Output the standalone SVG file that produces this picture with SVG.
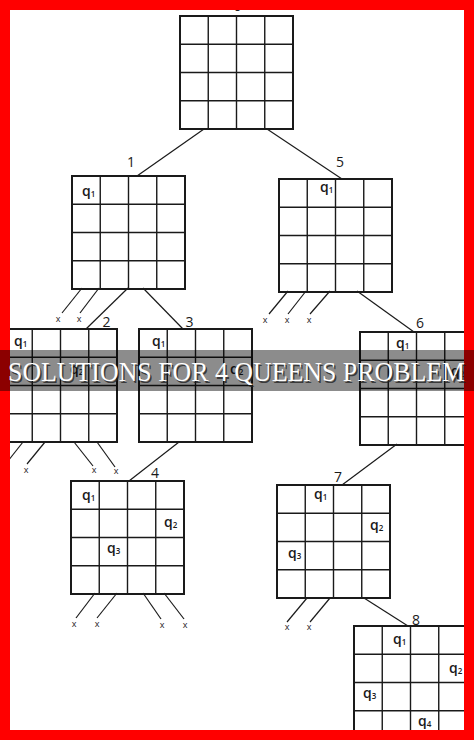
<svg xmlns="http://www.w3.org/2000/svg" xmlns:xlink="http://www.w3.org/1999/xlink" width="474" height="740" viewBox="0 0 474 740">
<style>
.outer{fill:none;stroke:#1a1a1a;stroke-width:2}
.inner{fill:none;stroke:#1a1a1a;stroke-width:1.4}
.conn line{stroke:#1a1a1a;stroke-width:1.2}
.q{font-family:"Open Sans","Liberation Sans",sans-serif;font-size:14px;fill:#1a1a1a;font-weight:600}
.sub{font-size:8px}
.num{font-family:"Open Sans","Liberation Sans",sans-serif;font-size:14px;fill:#1a1a1a;text-anchor:middle}
.x{font-family:"Open Sans","Liberation Sans",sans-serif;font-size:9px;fill:#1a1a1a;text-anchor:middle}
.ban{font-family:"Liberation Serif","Times New Roman",serif;font-size:26.5px}
</style>
<defs>
<g id="board">
<rect x="0" y="0" width="113" height="113" class="outer"/>
<path class="inner" d="M28.25 0V113M56.5 0V113M84.75 0V113M0 28.25H113M0 56.5H113M0 84.75H113"/>
</g>
</defs>
<rect x="0" y="0" width="474" height="740" fill="#fff"/>
<g id="connectors" class="conn">
<line x1="204" y1="129" x2="137" y2="176"/>
<line x1="267" y1="129" x2="342" y2="179"/>
<line x1="82" y1="288" x2="62" y2="313"/>
<line x1="99" y1="288" x2="80" y2="313"/>
<line x1="128" y1="288" x2="86" y2="329"/>
<line x1="143" y1="288" x2="183" y2="329"/>
<line x1="288" y1="291" x2="269" y2="314"/>
<line x1="306" y1="291" x2="288" y2="314"/>
<line x1="330" y1="291" x2="310" y2="314"/>
<line x1="357" y1="291" x2="414" y2="332"/>
<line x1="23" y1="442" x2="8" y2="461"/>
<line x1="45" y1="442" x2="27" y2="464"/>
<line x1="74" y1="442" x2="93" y2="466"/>
<line x1="97" y1="442" x2="115" y2="467"/>
<line x1="179" y1="442" x2="129" y2="481"/>
<line x1="397" y1="444" x2="342" y2="485"/>
<line x1="95" y1="593" x2="76" y2="618"/>
<line x1="117" y1="593" x2="97" y2="618"/>
<line x1="143" y1="593" x2="161" y2="619"/>
<line x1="164" y1="593" x2="184" y2="619"/>
<line x1="307" y1="598" x2="287" y2="622"/>
<line x1="330" y1="598" x2="310" y2="622"/>
<line x1="364" y1="598" x2="408" y2="626"/>
</g>
<g id="node0"><use xlink:href="#board" x="180" y="16"/><text class="num" x="237.5" y="11">0</text></g>
<g id="node1"><use xlink:href="#board" x="72" y="176"/><text class="num" x="131" y="166.5">1</text>
<text class="q" x="82" y="195.5">q<tspan class="sub" dy="1">1</tspan></text></g>
<g id="node5"><use xlink:href="#board" x="279" y="179"/><text class="num" x="340" y="166.5">5</text>
<text class="q" x="320" y="192">q<tspan class="sub" dy="1">1</tspan></text></g>
<g id="node2"><use xlink:href="#board" x="4" y="329"/><text class="num" x="106.5" y="326.5">2</text>
<text class="q" x="14" y="345.5">q<tspan class="sub" dy="1">1</tspan></text>
<text class="q" x="70" y="374">q<tspan class="sub" dy="1">2</tspan></text></g>
<g id="node3"><use xlink:href="#board" x="139" y="329"/><text class="num" x="189.5" y="326.5">3</text>
<text class="q" x="152" y="345.5">q<tspan class="sub" dy="1">1</tspan></text>
<text class="q" x="230" y="374">q<tspan class="sub" dy="1">2</tspan></text></g>
<g id="node6"><use xlink:href="#board" x="360" y="332"/><text class="num" x="420" y="328">6</text>
<text class="q" x="396" y="347.5">q<tspan class="sub" dy="1">1</tspan></text>
<text class="q" x="451" y="376">q<tspan class="sub" dy="1">2</tspan></text></g>
<g id="node4"><use xlink:href="#board" x="71" y="481"/><text class="num" x="155" y="478">4</text>
<text class="q" x="82" y="500">q<tspan class="sub" dy="1">1</tspan></text>
<text class="q" x="164" y="527">q<tspan class="sub" dy="1">2</tspan></text>
<text class="q" x="107" y="553">q<tspan class="sub" dy="1">3</tspan></text></g>
<g id="node7"><use xlink:href="#board" x="277" y="485"/><text class="num" x="338" y="481.5">7</text>
<text class="q" x="314" y="499">q<tspan class="sub" dy="1">1</tspan></text>
<text class="q" x="370" y="530">q<tspan class="sub" dy="1">2</tspan></text>
<text class="q" x="288" y="557.5">q<tspan class="sub" dy="1">3</tspan></text></g>
<g id="node8"><use xlink:href="#board" x="354" y="626"/><text class="num" x="416" y="625">8</text>
<text class="q" x="393" y="644">q<tspan class="sub" dy="1">1</tspan></text>
<text class="q" x="449" y="673">q<tspan class="sub" dy="1">2</tspan></text>
<text class="q" x="363" y="697.5">q<tspan class="sub" dy="1">3</tspan></text>
<text class="q" x="418" y="726">q<tspan class="sub" dy="1">4</tspan></text></g>
<g id="dead-ends">
<text class="x" x="58" y="322">x</text><text class="x" x="79" y="322">x</text>
<text class="x" x="265" y="323">x</text><text class="x" x="287" y="323">x</text><text class="x" x="309" y="323">x</text>
<text class="x" x="26" y="473">x</text><text class="x" x="94" y="473">x</text><text class="x" x="116" y="474">x</text>
<text class="x" x="74" y="627">x</text><text class="x" x="97" y="627">x</text><text class="x" x="162" y="628">x</text><text class="x" x="185" y="628">x</text>
<text class="x" x="287" y="630">x</text><text class="x" x="309" y="630">x</text>
</g>
<rect x="5" y="5" width="464" height="730" fill="none" stroke="#ff0000" stroke-width="10"/>
<g id="banner">
<rect x="0" y="350" width="474" height="41" fill="#000" fill-opacity="0.45"/>
<text class="ban" x="9.5" y="382.5" fill="#222" fill-opacity="0.8" textLength="457" lengthAdjust="spacingAndGlyphs">SOLUTIONS FOR 4 QUEENS PROBLEM</text>
<text class="ban" x="8" y="381" fill="#fff" textLength="457" lengthAdjust="spacingAndGlyphs">SOLUTIONS FOR 4 QUEENS PROBLEM</text>
</g>
</svg>
